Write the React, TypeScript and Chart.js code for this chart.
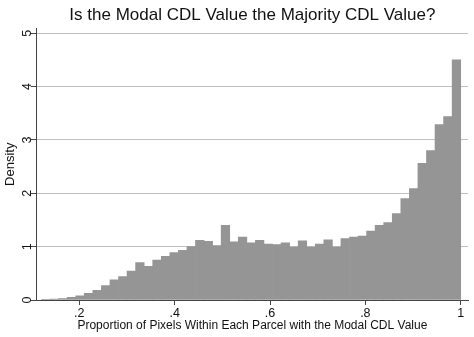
import React, { useEffect, useRef } from "react";
import { Chart, registerables } from "chart.js";

Chart.register(...registerables);

// Histogram bins (49 equal-width bins from the data minimum to 1)
const binStart = 0.1207;
const binEnd = 1.0;
const densities = [
  0.005, 0.015, 0.025, 0.05, 0.08, 0.125, 0.18, 0.27, 0.38, 0.44, 0.54, 0.7, 0.63,
  0.75, 0.82, 0.89, 0.93, 1.0, 1.12, 1.1, 1.02, 1.4, 1.09, 1.18, 1.07, 1.12, 1.05,
  1.04, 1.07, 0.99, 1.11, 0.99, 1.05, 1.13, 0.99, 1.15, 1.18, 1.2, 1.29, 1.4, 1.45,
  1.62, 1.9, 2.09, 2.56, 2.8, 3.29, 3.44, 4.5,
];
const xTicks = [0.2, 0.4, 0.6, 0.8, 1.0];
const xTickLabels = [".2", ".4", ".6", ".8", "1"];
const yTicks = [0, 1, 2, 3, 4, 5];
const yTickLabels = ["0", "1", "2", "3", "4", "5"];

const titleText = "Is the Modal CDL Value the Majority CDL Value?";
const xTitle = "Proportion of Pixels Within Each Parcel with the Modal CDL Value";
const yTitle = "Density";

export default function App() {
  const ref = useRef<HTMLCanvasElement | null>(null);

  useEffect(() => {
    if (!ref.current) return;
    Chart.defaults.font.family = "'Liberation Sans', Arial, Helvetica, sans-serif";
    const binWidth = (binEnd - binStart) / densities.length;
    const points = densities.map((d, i) => ({ x: binStart + (i + 0.5) * binWidth, y: d }));
    const chart = new Chart(ref.current, {
      type: "bar",
      data: {
        datasets: [
          {
            data: points as any,
            backgroundColor: "#959595",
            borderWidth: 0,
            barPercentage: 1,
            categoryPercentage: 1,
          },
        ],
      },
      options: {
        animation: false,
        responsive: false,
        layout: { padding: { left: 0, right: 6, top: 0, bottom: 0 } },
        plugins: {
          legend: { display: false },
          tooltip: { enabled: false },
          title: {
            display: true,
            text: titleText,
            fullSize: false,
            color: "#111",
            font: { size: 17, weight: "normal" as any },
            padding: { top: 4.8, bottom: 3.3 },
          },
        },
        scales: {
          x: {
            type: "linear",
            offset: false,
            min: 0.1106,
            max: 1.0153,
            afterBuildTicks: (s: any) => {
              s.ticks = xTicks.map((v) => ({ value: v }));
            },
            afterFit: (s: any) => {
              s.height = 37;
            },
            ticks: {
              autoSkip: false,
              maxRotation: 0,
              minRotation: 0,
              padding: 1,
              color: "#111",
              font: { size: 12.5 },
              callback: (v: any) => {
                const i = xTicks.indexOf(Number(v));
                return i >= 0 ? xTickLabels[i] : "";
              },
            },
            grid: {
              display: true,
              offset: false,
              drawOnChartArea: false,
              drawTicks: true,
              tickLength: 5,
              tickColor: "#444",
            },
            border: { display: true, color: "#444", width: 1 },
            title: {
              display: true,
              text: xTitle,
              color: "#111",
              font: { size: 12 },
              padding: { top: 0, bottom: 3.8 },
            },
          },
          y: {
            type: "linear",
            min: 0,
            max: 5.089,
            afterBuildTicks: (s: any) => {
              s.ticks = yTicks.map((v) => ({ value: v }));
            },
            afterFit: (s: any) => {
              s.width = 36.7;
            },
            ticks: {
              autoSkip: false,
              minRotation: 90,
              maxRotation: 90,
              crossAlign: "center",
              padding: 0,
              color: "#111",
              font: { size: 12.5 },
              callback: (v: any) => {
                const i = yTicks.indexOf(Number(v));
                return i >= 0 ? yTickLabels[i] : "";
              },
            },
            grid: {
              display: true,
              drawOnChartArea: true,
              color: "#c0c0c0",
              lineWidth: 1,
              tickColor: "#444",
              tickLength: 6,
            },
            border: { display: true, color: "#444", width: 1 },
            title: {
              display: true,
              text: yTitle,
              color: "#111",
              font: { size: 13 },
              padding: { top: 2.8, bottom: 0 },
            },
          },
        },
      },
    });
    return () => chart.destroy();
  }, []);

  return (
    <div style={{ position: "fixed", left: 0, top: 0, width: 474, height: 337, background: "#fff" }}>
      <canvas ref={ref} width={474} height={337} style={{ display: "block" }} />
    </div>
  );
}
